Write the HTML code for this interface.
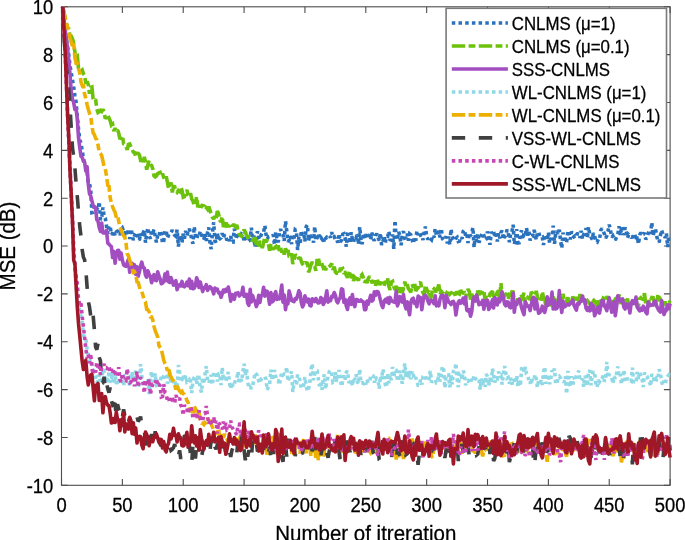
<!DOCTYPE html><html><head><meta charset="utf-8"><style>html,body{margin:0;padding:0;background:#fff;overflow:hidden}svg{display:block}</style></head><body><svg width="685" height="540" viewBox="0 0 685 540">
<rect width="685" height="540" fill="#fff"/>
<defs><clipPath id="ax"><rect x="61.50" y="6.80" width="608.60" height="478.50"/></clipPath></defs>
<g stroke="#4d4d4d" stroke-width="1.1" fill="none">
<rect x="61.5" y="6.8" width="608.60" height="478.50"/>
<path d="M61.50 485.3V479.10M61.50 6.8V13.00M122.36 485.3V479.10M122.36 6.8V13.00M183.22 485.3V479.10M183.22 6.8V13.00M244.08 485.3V479.10M244.08 6.8V13.00M304.94 485.3V479.10M304.94 6.8V13.00M365.80 485.3V479.10M365.80 6.8V13.00M426.66 485.3V479.10M426.66 6.8V13.00M487.52 485.3V479.10M487.52 6.8V13.00M548.38 485.3V479.10M548.38 6.8V13.00M609.24 485.3V479.10M609.24 6.8V13.00M670.10 485.3V479.10M670.10 6.8V13.00M61.5 485.30H67.70M670.1 485.30H663.90M61.5 437.45H67.70M670.1 437.45H663.90M61.5 389.60H67.70M670.1 389.60H663.90M61.5 341.75H67.70M670.1 341.75H663.90M61.5 293.90H67.70M670.1 293.90H663.90M61.5 246.05H67.70M670.1 246.05H663.90M61.5 198.20H67.70M670.1 198.20H663.90M61.5 150.35H67.70M670.1 150.35H663.90M61.5 102.50H67.70M670.1 102.50H663.90M61.5 54.65H67.70M670.1 54.65H663.90M61.5 6.80H67.70M670.1 6.80H663.90"/>
</g>
<g fill="none" stroke-linejoin="round">
<path d="M62.7 6.8 63.9 19.6 65.2 30.7 66.4 40.0 67.6 46.8 68.8 55.3 70.0 65.7 71.2 72.7 72.5 80.0 73.7 87.4 74.9 95.8 76.1 102.3 77.3 116.7 78.5 128.7 79.8 139.9 81.0 143.1 82.2 151.2 83.4 157.5 84.6 163.9 85.8 166.3 87.1 172.7 88.3 184.0 89.5 183.8 90.7 189.5 91.9 212.7 93.1 212.4 94.4 206.0 95.6 209.3 96.8 208.3 98.0 210.0 99.2 201.8 100.5 219.9 101.7 218.6 102.9 207.5 104.1 216.1 105.3 218.2 106.5 226.1 107.8 233.7 109.0 225.7 110.2 226.7 111.4 234.7 112.6 233.1 113.8 230.6 115.1 235.6 116.3 231.9 117.5 231.2 118.7 231.9 119.9 235.1 121.1 229.7 122.4 228.1 123.6 231.1 124.8 237.3 126.0 229.6 127.2 235.8 128.4 228.9 129.7 238.9 130.9 229.0 132.1 233.5 133.3 240.3 134.5 235.7 135.7 233.6 137.0 232.5 138.2 239.0 139.4 240.1 140.6 233.3 141.8 236.5 143.1 233.0 144.3 230.1 145.5 242.7 146.7 233.3 147.9 227.8 149.1 235.6 150.4 238.7 151.6 230.6 152.8 232.9 154.0 229.7 155.2 236.0 156.4 242.4 157.7 235.5 158.9 237.0 160.1 230.6 161.3 233.4 162.5 243.2 163.7 241.4 165.0 230.4 166.2 231.0 167.4 238.0 168.6 235.0 169.8 232.5 171.0 232.3 172.3 230.2 173.5 233.4 174.7 235.4 175.9 236.4 177.1 229.6 178.4 246.6 179.6 236.4 180.8 235.0 182.0 242.6 183.2 233.8 184.4 238.6 185.7 230.9 186.9 235.7 188.1 231.8 189.3 228.7 190.5 233.0 191.7 239.8 193.0 243.6 194.2 226.6 195.4 235.6 196.6 239.1 197.8 234.9 199.0 236.5 200.3 231.1 201.5 235.2 202.7 235.5 203.9 239.4 205.1 233.4 206.3 241.0 207.6 232.4 208.8 227.5 210.0 243.3 211.2 249.1 212.4 233.2 213.7 222.3 214.9 240.4 216.1 242.6 217.3 233.1 218.5 240.1 219.7 238.7 221.0 237.8 222.2 233.2 223.4 237.9 224.6 234.5 225.8 236.8 227.0 240.4 228.3 237.8 229.5 241.0 230.7 236.2 231.9 241.9 233.1 242.0 234.3 228.6 235.6 235.9 236.8 236.3 238.0 233.3 239.2 238.1 240.4 237.3 241.6 233.8 242.9 234.4 244.1 242.0 245.3 231.9 246.5 238.9 247.7 241.7 248.9 241.0 250.2 238.3 251.4 227.6 252.6 241.7 253.8 235.4 255.0 247.2 256.3 236.6 257.5 231.3 258.7 237.0 259.9 239.4 261.1 235.0 262.3 232.3 263.6 232.3 264.8 225.5 266.0 234.4 267.2 239.0 268.4 236.8 269.6 236.4 270.9 235.5 272.1 236.1 273.3 235.1 274.5 244.7 275.7 232.1 276.9 238.8 278.2 242.3 279.4 233.0 280.6 228.9 281.8 233.1 283.0 235.0 284.2 240.8 285.5 221.2 286.7 230.6 287.9 241.7 289.1 240.4 290.3 235.8 291.6 244.1 292.8 235.5 294.0 238.4 295.2 229.7 296.4 230.6 297.6 250.0 298.9 236.5 300.1 244.5 301.3 230.6 302.5 234.8 303.7 233.1 304.9 241.4 306.2 226.7 307.4 224.9 308.6 241.0 309.8 234.3 311.0 239.4 312.2 236.3 313.5 242.7 314.7 226.5 315.9 240.6 317.1 237.8 318.3 233.5 319.5 239.3 320.8 237.4 322.0 239.0 323.2 236.9 324.4 242.2 325.6 238.6 326.8 237.2 328.1 237.8 329.3 235.8 330.5 237.5 331.7 232.1 332.9 237.5 334.2 236.8 335.4 239.5 336.6 238.9 337.8 242.8 339.0 233.6 340.2 241.9 341.5 240.2 342.7 234.3 343.9 233.8 345.1 238.0 346.3 246.7 347.5 234.3 348.8 234.6 350.0 243.3 351.2 232.3 352.4 239.5 353.6 242.1 354.8 235.8 356.1 236.9 357.3 235.0 358.5 244.4 359.7 226.9 360.9 238.7 362.1 244.2 363.4 233.2 364.6 237.7 365.8 234.4 367.0 237.7 368.2 236.4 369.5 234.7 370.7 239.9 371.9 232.6 373.1 238.3 374.3 240.7 375.5 235.8 376.8 233.7 378.0 237.1 379.2 240.6 380.4 233.0 381.6 245.1 382.8 241.9 384.1 236.1 385.3 243.1 386.5 236.2 387.7 236.3 388.9 231.3 390.1 240.6 391.4 239.5 392.6 234.4 393.8 248.8 395.0 220.4 396.2 238.9 397.4 240.0 398.7 231.7 399.9 236.0 401.1 245.3 402.3 233.2 403.5 231.4 404.8 238.1 406.0 237.6 407.2 233.5 408.4 240.6 409.6 233.9 410.8 234.9 412.1 239.5 413.3 243.5 414.5 237.6 415.7 240.7 416.9 231.0 418.1 235.0 419.4 231.8 420.6 235.1 421.8 234.6 423.0 240.0 424.2 232.7 425.4 226.5 426.7 237.2 427.9 239.2 429.1 237.0 430.3 238.6 431.5 239.8 432.7 235.5 434.0 237.5 435.2 228.5 436.4 235.6 437.6 234.3 438.8 230.9 440.0 237.3 441.3 228.5 442.5 238.9 443.7 240.4 444.9 238.1 446.1 236.7 447.4 243.4 448.6 236.6 449.8 244.8 451.0 229.1 452.2 236.1 453.4 239.4 454.7 240.9 455.9 238.3 457.1 237.3 458.3 241.5 459.5 241.1 460.7 237.2 462.0 238.8 463.2 231.2 464.4 229.8 465.6 235.6 466.8 233.5 468.0 242.9 469.3 233.0 470.5 236.0 471.7 233.5 472.9 227.5 474.1 247.5 475.3 235.2 476.6 241.7 477.8 233.2 479.0 242.8 480.2 238.9 481.4 235.1 482.7 232.7 483.9 235.4 485.1 240.1 486.3 239.1 487.5 231.5 488.7 235.8 490.0 244.8 491.2 232.0 492.4 233.6 493.6 231.3 494.8 237.5 496.0 231.7 497.3 241.4 498.5 233.3 499.7 238.4 500.9 232.6 502.1 230.6 503.3 239.6 504.6 236.4 505.8 235.8 507.0 229.7 508.2 232.0 509.4 242.2 510.6 233.9 511.9 232.0 513.1 224.7 514.3 244.2 515.5 239.2 516.7 229.2 518.0 242.8 519.2 242.6 520.4 233.6 521.6 230.5 522.8 239.2 524.0 233.3 525.3 235.3 526.5 228.0 527.7 235.6 528.9 230.8 530.1 240.5 531.3 237.2 532.6 236.6 533.8 230.1 535.0 232.7 536.2 239.8 537.4 232.6 538.6 231.8 539.9 236.4 541.1 237.4 542.3 237.1 543.5 245.0 544.7 235.5 545.9 234.7 547.2 240.5 548.4 232.3 549.6 243.0 550.8 239.2 552.0 238.7 553.2 225.7 554.5 243.9 555.7 233.4 556.9 230.9 558.1 233.8 559.3 229.7 560.6 240.9 561.8 248.2 563.0 232.6 564.2 242.1 565.4 238.0 566.6 242.3 567.9 230.8 569.1 231.2 570.3 239.5 571.5 231.4 572.7 235.1 573.9 236.7 575.2 235.7 576.4 237.1 577.6 232.8 578.8 234.2 580.0 237.7 581.2 230.8 582.5 239.0 583.7 234.6 584.9 233.7 586.1 228.1 587.3 238.3 588.5 227.0 589.8 234.6 591.0 237.0 592.2 239.6 593.4 233.1 594.6 235.6 595.9 241.8 597.1 242.2 598.3 239.2 599.5 239.7 600.7 230.5 601.9 228.5 603.2 231.1 604.4 233.9 605.6 238.1 606.8 235.8 608.0 231.4 609.2 224.6 610.5 230.6 611.7 237.2 612.9 235.9 614.1 238.5 615.3 240.2 616.5 237.2 617.8 235.0 619.0 226.3 620.2 235.2 621.4 228.8 622.6 226.4 623.8 235.1 625.1 227.5 626.3 231.8 627.5 238.0 628.7 234.7 629.9 235.8 631.1 237.2 632.4 237.1 633.6 235.3 634.8 233.7 636.0 240.5 637.2 236.3 638.5 244.0 639.7 235.0 640.9 232.7 642.1 235.0 643.3 234.5 644.5 232.8 645.8 239.3 647.0 237.4 648.2 233.4 649.4 230.6 650.6 233.7 651.8 222.5 653.1 235.8 654.3 230.7 655.5 229.1 656.7 236.4 657.9 240.3 659.1 242.4 660.4 235.5 661.6 230.1 662.8 234.3 664.0 235.0 665.2 237.9 666.4 233.2 667.7 247.1 668.9 235.3 670.1 235.8" stroke="#2a72bd" stroke-width="3.6" stroke-dasharray="3.5 3.2" stroke-linejoin="miter" stroke-miterlimit="2"/>
<path d="M62.7 6.8 63.9 11.3 65.2 18.1 66.4 23.3 67.6 28.5 68.8 28.9 70.0 36.1 71.2 36.1 72.5 38.8 73.7 43.3 74.9 52.2 76.1 56.7 77.3 56.0 78.5 68.1 79.8 70.4 81.0 70.7 82.2 69.9 83.4 73.7 84.6 75.3 85.8 83.6 87.1 81.3 88.3 84.7 89.5 93.7 90.7 87.6 91.9 87.1 93.1 98.7 94.4 100.5 95.6 99.2 96.8 108.9 98.0 112.5 99.2 111.8 100.5 110.4 101.7 111.4 102.9 109.3 104.1 111.9 105.3 118.8 106.5 116.5 107.8 114.6 109.0 118.2 110.2 120.7 111.4 125.2 112.6 124.2 113.8 131.1 115.1 128.1 116.3 131.6 117.5 129.8 118.7 132.9 119.9 139.2 121.1 137.7 122.4 135.7 123.6 143.8 124.8 144.3 126.0 146.3 127.2 149.9 128.4 144.4 129.7 144.0 130.9 146.7 132.1 149.7 133.3 152.0 134.5 152.5 135.7 156.5 137.0 153.2 138.2 153.4 139.4 154.8 140.6 160.3 141.8 160.0 143.1 161.7 144.3 157.0 145.5 162.2 146.7 169.7 147.9 164.7 149.1 160.7 150.4 164.8 151.6 165.5 152.8 168.9 154.0 175.9 155.2 176.9 156.4 176.1 157.7 173.5 158.9 172.8 160.1 172.3 161.3 176.0 162.5 173.4 163.7 177.5 165.0 179.9 166.2 176.4 167.4 182.1 168.6 188.8 169.8 185.5 171.0 182.6 172.3 192.5 173.5 186.4 174.7 186.7 175.9 190.8 177.1 192.3 178.4 190.4 179.6 191.4 180.8 187.1 182.0 190.2 183.2 197.1 184.4 196.6 185.7 192.9 186.9 189.9 188.1 194.9 189.3 196.5 190.5 193.0 191.7 199.0 193.0 201.2 194.2 205.5 195.4 204.0 196.6 196.7 197.8 207.3 199.0 204.9 200.3 209.6 201.5 206.3 202.7 204.5 203.9 208.4 205.1 206.7 206.3 207.5 207.6 209.3 208.8 206.7 210.0 210.2 211.2 214.7 212.4 217.3 213.7 219.0 214.9 216.1 216.1 219.0 217.3 211.0 218.5 213.4 219.7 220.3 221.0 221.8 222.2 216.6 223.4 227.0 224.6 224.4 225.8 220.4 227.0 226.0 228.3 225.7 229.5 225.8 230.7 223.3 231.9 225.1 233.1 225.1 234.3 225.1 235.6 227.3 236.8 224.9 238.0 230.7 239.2 233.9 240.4 235.8 241.6 236.2 242.9 233.7 244.1 229.4 245.3 232.1 246.5 235.2 247.7 237.5 248.9 236.7 250.2 236.9 251.4 238.0 252.6 241.3 253.8 239.4 255.0 235.5 256.3 245.0 257.5 240.9 258.7 246.5 259.9 240.8 261.1 243.5 262.3 248.1 263.6 242.6 264.8 237.3 266.0 242.2 267.2 240.0 268.4 243.7 269.6 250.6 270.9 243.8 272.1 246.2 273.3 250.0 274.5 244.2 275.7 245.6 276.9 248.7 278.2 245.5 279.4 250.9 280.6 247.7 281.8 252.7 283.0 249.5 284.2 254.7 285.5 248.3 286.7 251.9 287.9 249.5 289.1 256.4 290.3 256.7 291.6 253.3 292.8 264.0 294.0 260.5 295.2 254.5 296.4 255.9 297.6 255.0 298.9 259.1 300.1 257.3 301.3 261.3 302.5 264.0 303.7 265.5 304.9 262.7 306.2 262.7 307.4 263.3 308.6 272.3 309.8 269.0 311.0 264.6 312.2 262.1 313.5 264.7 314.7 266.2 315.9 270.9 317.1 259.0 318.3 267.3 319.5 260.2 320.8 260.2 322.0 264.4 323.2 267.6 324.4 266.2 325.6 270.2 326.8 266.8 328.1 267.6 329.3 266.5 330.5 265.5 331.7 263.5 332.9 269.8 334.2 266.6 335.4 272.1 336.6 273.3 337.8 273.0 339.0 274.4 340.2 269.1 341.5 269.1 342.7 268.5 343.9 272.6 345.1 272.5 346.3 275.3 347.5 277.6 348.8 273.5 350.0 273.9 351.2 278.3 352.4 274.1 353.6 280.9 354.8 277.3 356.1 278.5 357.3 278.6 358.5 280.6 359.7 275.1 360.9 275.9 362.1 274.5 363.4 277.7 364.6 282.5 365.8 280.5 367.0 283.0 368.2 278.7 369.5 276.3 370.7 278.9 371.9 282.2 373.1 282.1 374.3 280.6 375.5 285.6 376.8 281.6 378.0 281.3 379.2 283.7 380.4 283.8 381.6 282.2 382.8 285.3 384.1 285.9 385.3 281.2 386.5 282.7 387.7 278.5 388.9 286.5 390.1 290.0 391.4 282.1 392.6 281.4 393.8 286.8 395.0 289.8 396.2 285.8 397.4 291.0 398.7 287.2 399.9 292.8 401.1 287.4 402.3 293.0 403.5 287.7 404.8 281.7 406.0 286.9 407.2 284.3 408.4 288.7 409.6 290.1 410.8 292.4 412.1 284.5 413.3 287.4 414.5 282.3 415.7 291.1 416.9 289.0 418.1 287.9 419.4 283.6 420.6 281.9 421.8 290.0 423.0 292.6 424.2 295.0 425.4 285.1 426.7 289.1 427.9 291.5 429.1 289.8 430.3 298.3 431.5 296.5 432.7 287.4 434.0 288.5 435.2 289.6 436.4 293.7 437.6 288.8 438.8 284.4 440.0 294.4 441.3 291.3 442.5 292.7 443.7 290.2 444.9 291.3 446.1 292.1 447.4 294.9 448.6 292.3 449.8 294.2 451.0 292.9 452.2 292.6 453.4 290.2 454.7 294.4 455.9 294.1 457.1 289.2 458.3 293.4 459.5 294.1 460.7 290.3 462.0 292.1 463.2 293.1 464.4 292.8 465.6 298.2 466.8 292.7 468.0 289.1 469.3 291.6 470.5 299.6 471.7 293.9 472.9 297.7 474.1 295.8 475.3 294.4 476.6 299.2 477.8 290.6 479.0 294.9 480.2 292.3 481.4 292.8 482.7 290.3 483.9 290.7 485.1 300.5 486.3 296.1 487.5 303.6 488.7 298.4 490.0 293.7 491.2 292.6 492.4 291.2 493.6 297.2 494.8 295.4 496.0 296.1 497.3 292.0 498.5 290.5 499.7 297.4 500.9 283.2 502.1 295.6 503.3 298.2 504.6 295.0 505.8 294.2 507.0 294.9 508.2 299.4 509.4 292.2 510.6 296.7 511.9 291.8 513.1 291.9 514.3 301.6 515.5 301.6 516.7 301.7 518.0 297.3 519.2 297.6 520.4 296.9 521.6 300.8 522.8 296.7 524.0 292.9 525.3 302.4 526.5 299.3 527.7 297.5 528.9 298.7 530.1 299.1 531.3 292.1 532.6 293.2 533.8 295.0 535.0 301.0 536.2 290.8 537.4 296.7 538.6 300.7 539.9 300.3 541.1 300.9 542.3 291.6 543.5 297.6 544.7 298.8 545.9 307.0 547.2 297.4 548.4 303.0 549.6 303.9 550.8 297.7 552.0 302.5 553.2 296.9 554.5 295.3 555.7 305.7 556.9 300.8 558.1 305.6 559.3 300.6 560.6 296.7 561.8 304.5 563.0 293.9 564.2 300.5 565.4 304.4 566.6 301.0 567.9 297.4 569.1 304.9 570.3 300.7 571.5 305.3 572.7 296.5 573.9 299.4 575.2 301.8 576.4 296.8 577.6 304.8 578.8 302.3 580.0 294.0 581.2 300.4 582.5 295.7 583.7 299.4 584.9 303.1 586.1 301.8 587.3 300.6 588.5 302.2 589.8 303.9 591.0 304.0 592.2 306.5 593.4 301.1 594.6 299.5 595.9 298.1 597.1 307.2 598.3 298.7 599.5 300.8 600.7 306.2 601.9 301.2 603.2 298.2 604.4 298.9 605.6 298.3 606.8 297.4 608.0 297.5 609.2 300.9 610.5 308.7 611.7 304.7 612.9 300.3 614.1 302.8 615.3 298.9 616.5 298.1 617.8 300.8 619.0 294.4 620.2 304.1 621.4 298.2 622.6 302.7 623.8 304.3 625.1 299.5 626.3 303.4 627.5 298.5 628.7 305.3 629.9 301.7 631.1 304.5 632.4 302.6 633.6 302.9 634.8 305.7 636.0 299.5 637.2 305.8 638.5 305.4 639.7 298.7 640.9 297.7 642.1 298.7 643.3 300.0 644.5 293.1 645.8 305.1 647.0 304.6 648.2 305.4 649.4 298.7 650.6 300.2 651.8 297.4 653.1 297.6 654.3 302.0 655.5 304.6 656.7 305.5 657.9 294.0 659.1 297.3 660.4 299.0 661.6 302.6 662.8 302.4 664.0 302.9 665.2 302.9 666.4 310.4 667.7 302.7 668.9 303.1 670.1 300.7" stroke="#6cc20a" stroke-width="3.6" stroke-dasharray="13.4 3.4 6.8 3.4" stroke-linejoin="miter" stroke-miterlimit="2"/>
<path d="M62.7 6.8 63.9 19.5 65.2 30.6 66.4 38.7 67.6 49.3 68.8 60.5 70.0 74.5 71.2 91.3 72.5 99.4 73.7 102.6 74.9 109.4 76.1 108.5 77.3 119.2 78.5 137.5 79.8 147.7 81.0 156.3 82.2 157.3 83.4 161.1 84.6 162.1 85.8 170.9 87.1 166.8 88.3 184.0 89.5 193.9 90.7 195.9 91.9 200.7 93.1 205.5 94.4 206.6 95.6 208.1 96.8 219.8 98.0 221.0 99.2 227.5 100.5 231.3 101.7 223.0 102.9 232.7 104.1 233.1 105.3 232.8 106.5 230.5 107.8 243.1 109.0 244.2 110.2 245.6 111.4 246.6 112.6 257.5 113.8 251.6 115.1 263.3 116.3 253.6 117.5 250.6 118.7 250.4 119.9 259.2 121.1 253.1 122.4 260.2 123.6 264.8 124.8 265.8 126.0 266.3 127.2 262.7 128.4 259.5 129.7 272.3 130.9 269.8 132.1 263.3 133.3 265.1 134.5 264.9 135.7 274.3 137.0 266.7 138.2 276.2 139.4 271.8 140.6 265.8 141.8 262.1 143.1 267.6 144.3 268.0 145.5 275.2 146.7 277.2 147.9 270.8 149.1 274.3 150.4 276.2 151.6 282.7 152.8 278.0 154.0 274.6 155.2 280.1 156.4 280.7 157.7 271.7 158.9 275.5 160.1 278.8 161.3 283.7 162.5 283.1 163.7 281.4 165.0 273.9 166.2 280.6 167.4 272.1 168.6 281.9 169.8 282.5 171.0 277.6 172.3 281.2 173.5 285.1 174.7 283.5 175.9 280.7 177.1 289.7 178.4 286.2 179.6 284.7 180.8 285.9 182.0 281.4 183.2 286.1 184.4 286.8 185.7 285.5 186.9 282.2 188.1 285.6 189.3 279.1 190.5 288.1 191.7 281.2 193.0 288.8 194.2 288.2 195.4 285.8 196.6 277.7 197.8 280.6 199.0 287.4 200.3 282.0 201.5 287.3 202.7 291.6 203.9 287.5 205.1 288.1 206.3 284.6 207.6 290.4 208.8 288.2 210.0 286.7 211.2 288.0 212.4 290.0 213.7 293.8 214.9 288.0 216.1 289.9 217.3 289.1 218.5 292.8 219.7 292.5 221.0 297.3 222.2 293.9 223.4 290.0 224.6 291.9 225.8 289.3 227.0 291.0 228.3 287.0 229.5 292.8 230.7 301.1 231.9 294.5 233.1 295.3 234.3 299.3 235.6 293.3 236.8 293.4 238.0 292.7 239.2 296.0 240.4 294.7 241.6 294.2 242.9 287.3 244.1 296.2 245.3 296.0 246.5 294.3 247.7 303.1 248.9 305.3 250.2 289.3 251.4 302.0 252.6 295.4 253.8 299.8 255.0 300.8 256.3 306.6 257.5 303.5 258.7 295.2 259.9 302.4 261.1 295.7 262.3 295.0 263.6 287.3 264.8 296.1 266.0 291.1 267.2 291.3 268.4 296.6 269.6 304.3 270.9 292.6 272.1 301.9 273.3 300.8 274.5 294.4 275.7 291.6 276.9 299.4 278.2 298.2 279.4 298.9 280.6 292.8 281.8 285.1 283.0 302.1 284.2 295.0 285.5 309.7 286.7 301.4 287.9 303.9 289.1 290.9 290.3 295.2 291.6 300.5 292.8 301.1 294.0 301.6 295.2 298.5 296.4 299.1 297.6 295.7 298.9 290.8 300.1 293.1 301.3 302.4 302.5 306.9 303.7 304.5 304.9 295.8 306.2 299.3 307.4 301.9 308.6 299.2 309.8 305.3 311.0 305.9 312.2 298.8 313.5 300.3 314.7 301.5 315.9 298.5 317.1 301.6 318.3 303.0 319.5 302.5 320.8 297.6 322.0 298.6 323.2 304.5 324.4 302.4 325.6 297.5 326.8 290.7 328.1 302.1 329.3 298.9 330.5 300.7 331.7 296.4 332.9 296.8 334.2 292.5 335.4 295.4 336.6 301.1 337.8 302.8 339.0 299.1 340.2 298.1 341.5 288.9 342.7 289.4 343.9 302.3 345.1 299.4 346.3 306.0 347.5 309.5 348.8 299.9 350.0 297.9 351.2 304.4 352.4 294.5 353.6 303.2 354.8 306.6 356.1 299.6 357.3 299.5 358.5 301.2 359.7 301.3 360.9 300.0 362.1 301.3 363.4 301.9 364.6 309.7 365.8 309.6 367.0 301.0 368.2 304.2 369.5 299.7 370.7 295.3 371.9 301.1 373.1 300.0 374.3 291.7 375.5 295.4 376.8 291.5 378.0 291.7 379.2 295.2 380.4 300.2 381.6 304.9 382.8 307.6 384.1 301.3 385.3 299.5 386.5 301.9 387.7 298.0 388.9 303.4 390.1 297.4 391.4 300.4 392.6 301.6 393.8 301.9 395.0 302.4 396.2 291.1 397.4 305.9 398.7 302.5 399.9 296.7 401.1 297.4 402.3 302.1 403.5 294.5 404.8 304.7 406.0 308.8 407.2 301.8 408.4 308.7 409.6 314.8 410.8 302.2 412.1 299.0 413.3 298.2 414.5 303.4 415.7 302.0 416.9 306.7 418.1 296.1 419.4 297.2 420.6 297.7 421.8 309.8 423.0 301.3 424.2 295.6 425.4 295.2 426.7 297.0 427.9 301.0 429.1 303.8 430.3 300.4 431.5 300.4 432.7 301.1 434.0 303.7 435.2 295.7 436.4 305.9 437.6 303.9 438.8 305.8 440.0 299.3 441.3 295.5 442.5 295.2 443.7 297.3 444.9 307.6 446.1 295.2 447.4 298.4 448.6 302.2 449.8 302.8 451.0 304.5 452.2 301.7 453.4 301.4 454.7 304.3 455.9 315.0 457.1 306.9 458.3 302.2 459.5 300.6 460.7 303.2 462.0 301.3 463.2 298.1 464.4 303.9 465.6 297.0 466.8 310.2 468.0 311.0 469.3 309.7 470.5 316.2 471.7 311.7 472.9 300.4 474.1 297.0 475.3 301.1 476.6 295.2 477.8 300.0 479.0 304.7 480.2 302.8 481.4 304.0 482.7 300.4 483.9 309.3 485.1 300.9 486.3 304.9 487.5 300.2 488.7 309.5 490.0 307.3 491.2 304.4 492.4 299.9 493.6 308.0 494.8 297.6 496.0 299.8 497.3 304.9 498.5 298.7 499.7 301.8 500.9 298.1 502.1 291.8 503.3 296.8 504.6 304.1 505.8 305.8 507.0 301.9 508.2 302.0 509.4 307.0 510.6 307.8 511.9 302.1 513.1 293.0 514.3 312.3 515.5 303.2 516.7 304.7 518.0 300.7 519.2 299.1 520.4 302.3 521.6 308.0 522.8 311.4 524.0 314.6 525.3 301.8 526.5 304.3 527.7 306.5 528.9 306.0 530.1 310.6 531.3 304.7 532.6 298.4 533.8 297.3 535.0 309.0 536.2 299.5 537.4 306.1 538.6 313.2 539.9 312.3 541.1 310.9 542.3 306.2 543.5 309.4 544.7 312.4 545.9 307.8 547.2 296.7 548.4 305.1 549.6 302.4 550.8 303.3 552.0 292.1 553.2 309.0 554.5 300.8 555.7 308.9 556.9 308.3 558.1 305.9 559.3 290.6 560.6 303.6 561.8 312.4 563.0 301.0 564.2 307.0 565.4 306.2 566.6 305.0 567.9 304.1 569.1 305.0 570.3 303.3 571.5 302.3 572.7 299.9 573.9 304.9 575.2 307.8 576.4 310.1 577.6 303.5 578.8 304.3 580.0 301.9 581.2 301.2 582.5 296.0 583.7 300.9 584.9 300.0 586.1 308.4 587.3 310.4 588.5 307.6 589.8 310.8 591.0 303.3 592.2 310.0 593.4 305.8 594.6 315.8 595.9 312.8 597.1 308.5 598.3 306.8 599.5 313.1 600.7 306.6 601.9 300.8 603.2 300.5 604.4 306.2 605.6 307.6 606.8 310.7 608.0 303.6 609.2 297.8 610.5 304.9 611.7 312.2 612.9 305.9 614.1 301.8 615.3 315.8 616.5 307.3 617.8 295.8 619.0 298.3 620.2 300.2 621.4 301.5 622.6 298.9 623.8 307.1 625.1 309.1 626.3 304.1 627.5 307.5 628.7 304.3 629.9 313.0 631.1 303.8 632.4 300.6 633.6 303.2 634.8 303.5 636.0 297.1 637.2 307.2 638.5 309.4 639.7 310.9 640.9 308.4 642.1 310.3 643.3 306.2 644.5 308.0 645.8 312.1 647.0 313.8 648.2 302.0 649.4 304.2 650.6 305.5 651.8 304.8 653.1 305.1 654.3 301.4 655.5 301.2 656.7 306.2 657.9 308.8 659.1 310.7 660.4 312.0 661.6 300.6 662.8 307.5 664.0 314.5 665.2 311.4 666.4 310.2 667.7 304.9 668.9 308.7 670.1 303.5" stroke="#a24dc0" stroke-width="3.6"/>
<path d="M62.7 6.8 63.9 27.5 65.2 51.8 66.4 81.5 67.6 112.8 68.8 142.3 70.0 168.7 71.2 194.2 72.5 216.1 73.7 246.0 74.9 265.7 76.1 286.7 77.3 295.1 78.5 301.6 79.8 313.1 81.0 316.1 82.2 321.8 83.4 335.3 84.6 336.3 85.8 337.0 87.1 349.9 88.3 354.5 89.5 359.2 90.7 363.6 91.9 362.2 93.1 368.9 94.4 372.0 95.6 376.5 96.8 382.7 98.0 381.0 99.2 374.6 100.5 383.4 101.7 381.8 102.9 369.1 104.1 371.3 105.3 382.3 106.5 376.4 107.8 383.3 109.0 371.1 110.2 382.5 111.4 379.8 112.6 372.1 113.8 384.0 115.1 373.0 116.3 384.0 117.5 379.1 118.7 381.6 119.9 380.7 121.1 379.2 122.4 380.4 123.6 385.9 124.8 375.7 126.0 375.5 127.2 372.2 128.4 371.3 129.7 386.8 130.9 373.3 132.1 371.9 133.3 382.1 134.5 374.2 135.7 370.9 137.0 382.0 138.2 387.9 139.4 382.6 140.6 364.1 141.8 376.8 143.1 386.3 144.3 381.8 145.5 385.5 146.7 382.5 147.9 379.3 149.1 394.1 150.4 378.9 151.6 371.3 152.8 379.7 154.0 381.6 155.2 373.3 156.4 385.9 157.7 387.0 158.9 387.9 160.1 381.0 161.3 377.1 162.5 379.5 163.7 376.0 165.0 374.0 166.2 375.7 167.4 383.3 168.6 381.0 169.8 372.1 171.0 384.2 172.3 380.9 173.5 381.5 174.7 380.2 175.9 385.1 177.1 387.2 178.4 365.1 179.6 372.1 180.8 382.2 182.0 379.5 183.2 375.0 184.4 380.4 185.7 375.5 186.9 382.0 188.1 381.2 189.3 379.6 190.5 381.5 191.7 393.1 193.0 380.1 194.2 377.5 195.4 376.0 196.6 384.2 197.8 377.4 199.0 377.5 200.3 388.8 201.5 392.4 202.7 377.5 203.9 384.1 205.1 373.6 206.3 366.1 207.6 380.9 208.8 383.0 210.0 379.3 211.2 375.0 212.4 384.9 213.7 372.3 214.9 372.5 216.1 374.4 217.3 381.5 218.5 373.9 219.7 373.4 221.0 385.1 222.2 367.5 223.4 379.4 224.6 376.8 225.8 381.6 227.0 376.9 228.3 372.0 229.5 382.8 230.7 388.7 231.9 382.4 233.1 386.6 234.3 383.9 235.6 380.1 236.8 379.3 238.0 371.5 239.2 383.9 240.4 377.3 241.6 381.6 242.9 371.3 244.1 363.7 245.3 375.6 246.5 369.0 247.7 380.9 248.9 388.2 250.2 387.0 251.4 388.7 252.6 385.3 253.8 380.8 255.0 372.5 256.3 374.2 257.5 375.7 258.7 380.9 259.9 383.2 261.1 379.1 262.3 378.1 263.6 377.3 264.8 376.6 266.0 379.3 267.2 389.9 268.4 386.3 269.6 384.3 270.9 369.7 272.1 380.4 273.3 375.1 274.5 370.1 275.7 376.1 276.9 380.8 278.2 380.7 279.4 384.9 280.6 377.7 281.8 372.3 283.0 374.9 284.2 374.0 285.5 374.3 286.7 366.9 287.9 381.3 289.1 378.2 290.3 374.7 291.6 371.3 292.8 391.9 294.0 383.1 295.2 380.5 296.4 384.9 297.6 374.6 298.9 377.2 300.1 380.9 301.3 388.4 302.5 387.3 303.7 385.3 304.9 376.9 306.2 385.6 307.4 391.3 308.6 388.4 309.8 383.2 311.0 369.7 312.2 363.7 313.5 380.1 314.7 373.6 315.9 370.3 317.1 370.7 318.3 378.7 319.5 386.2 320.8 382.4 322.0 389.8 323.2 378.6 324.4 374.4 325.6 389.2 326.8 380.2 328.1 377.3 329.3 371.6 330.5 370.2 331.7 373.4 332.9 382.2 334.2 381.3 335.4 372.2 336.6 381.6 337.8 379.4 339.0 370.0 340.2 377.2 341.5 386.5 342.7 381.3 343.9 375.4 345.1 379.6 346.3 372.3 347.5 370.9 348.8 381.7 350.0 382.0 351.2 379.7 352.4 385.8 353.6 377.4 354.8 379.7 356.1 374.4 357.3 381.8 358.5 384.1 359.7 368.9 360.9 382.9 362.1 382.6 363.4 383.4 364.6 381.0 365.8 384.3 367.0 379.6 368.2 382.9 369.5 381.6 370.7 377.0 371.9 374.7 373.1 375.8 374.3 382.7 375.5 377.0 376.8 379.3 378.0 379.5 379.2 388.7 380.4 376.0 381.6 379.3 382.8 369.2 384.1 374.2 385.3 384.7 386.5 387.3 387.7 373.1 388.9 383.3 390.1 375.4 391.4 380.2 392.6 367.0 393.8 377.2 395.0 370.0 396.2 370.3 397.4 380.6 398.7 380.9 399.9 370.5 401.1 378.0 402.3 383.7 403.5 372.4 404.8 363.4 406.0 377.4 407.2 370.6 408.4 378.8 409.6 371.0 410.8 379.3 412.1 371.1 413.3 374.8 414.5 379.3 415.7 377.3 416.9 381.5 418.1 385.3 419.4 385.2 420.6 379.5 421.8 384.6 423.0 376.6 424.2 375.3 425.4 375.5 426.7 381.0 427.9 378.4 429.1 378.6 430.3 370.9 431.5 382.3 432.7 381.0 434.0 380.0 435.2 379.4 436.4 382.8 437.6 382.4 438.8 373.0 440.0 381.5 441.3 373.5 442.5 366.3 443.7 369.9 444.9 387.9 446.1 374.9 447.4 375.3 448.6 375.0 449.8 387.3 451.0 374.9 452.2 384.3 453.4 371.6 454.7 371.6 455.9 363.2 457.1 379.1 458.3 387.2 459.5 373.3 460.7 372.9 462.0 380.1 463.2 370.8 464.4 373.7 465.6 385.3 466.8 381.1 468.0 381.3 469.3 379.3 470.5 377.4 471.7 382.3 472.9 380.0 474.1 375.2 475.3 378.5 476.6 380.0 477.8 380.3 479.0 379.2 480.2 389.5 481.4 378.6 482.7 384.3 483.9 378.4 485.1 386.8 486.3 374.0 487.5 376.7 488.7 386.0 490.0 377.9 491.2 382.7 492.4 368.6 493.6 374.7 494.8 382.6 496.0 377.6 497.3 378.5 498.5 371.6 499.7 375.7 500.9 375.2 502.1 384.5 503.3 374.5 504.6 366.1 505.8 373.5 507.0 378.2 508.2 377.4 509.4 383.7 510.6 377.9 511.9 384.6 513.1 378.8 514.3 380.7 515.5 383.4 516.7 375.6 518.0 386.6 519.2 379.5 520.4 386.1 521.6 368.7 522.8 366.2 524.0 372.3 525.3 367.0 526.5 373.9 527.7 374.8 528.9 380.5 530.1 383.7 531.3 378.2 532.6 381.4 533.8 381.2 535.0 374.5 536.2 378.7 537.4 387.3 538.6 380.5 539.9 383.0 541.1 380.6 542.3 384.9 543.5 372.2 544.7 366.9 545.9 383.6 547.2 375.2 548.4 374.7 549.6 384.2 550.8 378.4 552.0 370.4 553.2 372.8 554.5 368.6 555.7 384.1 556.9 383.3 558.1 377.3 559.3 376.3 560.6 378.1 561.8 380.6 563.0 381.0 564.2 382.2 565.4 376.3 566.6 394.0 567.9 370.9 569.1 380.8 570.3 386.9 571.5 376.2 572.7 386.3 573.9 377.1 575.2 380.7 576.4 375.4 577.6 373.7 578.8 370.7 580.0 380.6 581.2 380.4 582.5 378.8 583.7 386.7 584.9 376.0 586.1 377.6 587.3 386.1 588.5 372.4 589.8 370.2 591.0 385.3 592.2 376.0 593.4 371.2 594.6 373.1 595.9 383.6 597.1 387.1 598.3 380.1 599.5 381.6 600.7 379.0 601.9 379.2 603.2 375.7 604.4 381.5 605.6 379.8 606.8 361.8 608.0 377.7 609.2 374.3 610.5 376.6 611.7 377.2 612.9 383.7 614.1 376.2 615.3 378.7 616.5 374.0 617.8 366.5 619.0 376.4 620.2 374.1 621.4 384.1 622.6 378.6 623.8 369.8 625.1 378.1 626.3 382.3 627.5 377.9 628.7 379.7 629.9 380.2 631.1 381.0 632.4 367.6 633.6 382.5 634.8 381.4 636.0 382.2 637.2 372.0 638.5 379.6 639.7 371.3 640.9 377.0 642.1 378.7 643.3 387.0 644.5 372.6 645.8 375.0 647.0 376.0 648.2 379.1 649.4 381.1 650.6 386.2 651.8 374.1 653.1 376.7 654.3 380.5 655.5 382.5 656.7 378.4 657.9 379.2 659.1 369.4 660.4 373.4 661.6 381.6 662.8 385.3 664.0 380.7 665.2 384.1 666.4 378.8 667.7 376.4 668.9 374.8 670.1 375.9" stroke="#8fd8e5" stroke-width="3.6" stroke-dasharray="3.5 3.2" stroke-linejoin="miter" stroke-miterlimit="2"/>
<path d="M62.7 6.8 63.9 12.4 65.2 18.5 66.4 23.3 67.6 26.9 68.8 31.6 70.0 38.1 71.2 41.9 72.5 46.7 73.7 43.4 74.9 57.9 76.1 63.3 77.3 63.4 78.5 68.7 79.8 72.8 81.0 82.0 82.2 85.3 83.4 84.2 84.6 94.2 85.8 98.3 87.1 104.6 88.3 109.2 89.5 113.3 90.7 115.7 91.9 125.6 93.1 132.8 94.4 134.6 95.6 138.2 96.8 139.5 98.0 144.8 99.2 152.1 100.5 153.6 101.7 155.5 102.9 161.0 104.1 166.8 105.3 169.0 106.5 175.7 107.8 185.3 109.0 186.0 110.2 197.9 111.4 203.0 112.6 206.9 113.8 209.8 115.1 212.4 116.3 217.3 117.5 215.7 118.7 221.1 119.9 227.0 121.1 229.7 122.4 233.4 123.6 235.8 124.8 237.1 126.0 243.4 127.2 253.5 128.4 255.8 129.7 260.2 130.9 263.5 132.1 268.2 133.3 272.3 134.5 271.8 135.7 274.0 137.0 282.0 138.2 282.4 139.4 286.8 140.6 290.8 141.8 291.7 143.1 296.0 144.3 300.4 145.5 302.1 146.7 309.3 147.9 309.7 149.1 311.6 150.4 316.8 151.6 316.9 152.8 320.0 154.0 326.4 155.2 330.7 156.4 333.6 157.7 337.0 158.9 345.3 160.1 347.4 161.3 349.0 162.5 354.5 163.7 360.0 165.0 363.7 166.2 366.0 167.4 370.8 168.6 367.2 169.8 375.0 171.0 376.6 172.3 379.5 173.5 380.8 174.7 385.1 175.9 389.5 177.1 384.9 178.4 389.3 179.6 391.0 180.8 392.4 182.0 391.4 183.2 393.6 184.4 394.5 185.7 396.9 186.9 400.4 188.1 402.4 189.3 406.6 190.5 411.7 191.7 410.2 193.0 413.1 194.2 406.3 195.4 408.5 196.6 410.8 197.8 416.4 199.0 411.9 200.3 421.5 201.5 423.1 202.7 423.2 203.9 424.5 205.1 422.5 206.3 422.6 207.6 418.2 208.8 420.6 210.0 421.0 211.2 424.1 212.4 427.1 213.7 430.1 214.9 434.0 216.1 433.3 217.3 432.1 218.5 428.5 219.7 436.9 221.0 438.2 222.2 433.3 223.4 437.6 224.6 433.9 225.8 436.6 227.0 439.0 228.3 442.3 229.5 438.6 230.7 440.9 231.9 441.4 233.1 442.0 234.3 439.0 235.6 438.9 236.8 447.3 238.0 442.6 239.2 439.5 240.4 436.2 241.6 437.0 242.9 440.0 244.1 447.3 245.3 447.2 246.5 439.4 247.7 445.7 248.9 439.0 250.2 436.6 251.4 447.2 252.6 442.4 253.8 444.1 255.0 434.5 256.3 438.3 257.5 445.5 258.7 442.7 259.9 448.5 261.1 446.1 262.3 444.1 263.6 444.0 264.8 443.4 266.0 449.0 267.2 454.7 268.4 448.9 269.6 450.3 270.9 449.8 272.1 436.4 273.3 438.4 274.5 445.1 275.7 452.5 276.9 453.4 278.2 445.8 279.4 441.0 280.6 446.5 281.8 445.7 283.0 445.0 284.2 441.1 285.5 454.3 286.7 447.3 287.9 444.8 289.1 441.8 290.3 443.8 291.6 451.3 292.8 450.4 294.0 454.7 295.2 447.5 296.4 446.1 297.6 444.3 298.9 451.0 300.1 453.1 301.3 441.0 302.5 444.9 303.7 438.4 304.9 443.2 306.2 453.2 307.4 444.5 308.6 440.7 309.8 447.9 311.0 456.3 312.2 445.8 313.5 447.5 314.7 445.9 315.9 459.5 317.1 447.4 318.3 460.2 319.5 453.8 320.8 444.3 322.0 455.2 323.2 457.6 324.4 451.4 325.6 440.3 326.8 438.2 328.1 448.3 329.3 442.7 330.5 443.6 331.7 445.3 332.9 445.2 334.2 450.3 335.4 444.1 336.6 441.6 337.8 433.4 339.0 440.2 340.2 457.4 341.5 455.0 342.7 447.3 343.9 447.0 345.1 456.0 346.3 449.7 347.5 449.5 348.8 448.0 350.0 448.1 351.2 443.2 352.4 439.6 353.6 442.6 354.8 451.7 356.1 452.3 357.3 451.5 358.5 448.5 359.7 449.7 360.9 449.5 362.1 452.2 363.4 443.9 364.6 442.7 365.8 442.0 367.0 446.8 368.2 445.2 369.5 451.3 370.7 453.0 371.9 451.2 373.1 445.5 374.3 447.8 375.5 453.0 376.8 448.2 378.0 445.7 379.2 446.4 380.4 450.5 381.6 447.8 382.8 449.6 384.1 449.5 385.3 448.4 386.5 444.2 387.7 438.3 388.9 438.4 390.1 442.8 391.4 448.5 392.6 449.2 393.8 449.2 395.0 442.5 396.2 459.6 397.4 448.8 398.7 457.3 399.9 449.6 401.1 441.8 402.3 450.8 403.5 459.0 404.8 443.8 406.0 439.8 407.2 443.8 408.4 441.0 409.6 450.1 410.8 442.7 412.1 438.7 413.3 442.9 414.5 445.4 415.7 441.2 416.9 441.1 418.1 449.9 419.4 441.8 420.6 443.0 421.8 446.1 423.0 441.3 424.2 442.1 425.4 443.1 426.7 449.2 427.9 444.1 429.1 452.3 430.3 449.3 431.5 456.1 432.7 457.5 434.0 447.6 435.2 448.2 436.4 447.5 437.6 445.0 438.8 445.6 440.0 451.6 441.3 448.2 442.5 448.2 443.7 450.4 444.9 448.9 446.1 449.8 447.4 451.3 448.6 450.1 449.8 447.2 451.0 438.0 452.2 449.7 453.4 445.8 454.7 454.3 455.9 441.7 457.1 448.2 458.3 447.3 459.5 441.8 460.7 442.0 462.0 453.8 463.2 446.5 464.4 448.7 465.6 445.2 466.8 446.6 468.0 444.2 469.3 445.8 470.5 448.2 471.7 442.4 472.9 454.1 474.1 451.2 475.3 453.1 476.6 449.7 477.8 450.3 479.0 449.1 480.2 450.5 481.4 450.7 482.7 456.3 483.9 449.8 485.1 446.9 486.3 450.6 487.5 451.6 488.7 451.8 490.0 440.8 491.2 445.7 492.4 445.7 493.6 449.0 494.8 450.6 496.0 452.7 497.3 441.7 498.5 454.8 499.7 448.0 500.9 448.1 502.1 449.3 503.3 455.7 504.6 455.4 505.8 444.9 507.0 450.7 508.2 444.4 509.4 444.2 510.6 444.5 511.9 443.8 513.1 452.9 514.3 451.3 515.5 445.5 516.7 453.5 518.0 441.3 519.2 449.4 520.4 448.6 521.6 453.0 522.8 447.3 524.0 451.4 525.3 449.9 526.5 453.8 527.7 443.6 528.9 454.9 530.1 447.3 531.3 446.8 532.6 445.8 533.8 452.4 535.0 444.1 536.2 442.8 537.4 446.3 538.6 446.3 539.9 448.5 541.1 445.2 542.3 451.4 543.5 446.2 544.7 445.8 545.9 454.3 547.2 461.7 548.4 451.4 549.6 449.5 550.8 442.7 552.0 446.8 553.2 450.2 554.5 455.0 555.7 449.9 556.9 451.2 558.1 454.0 559.3 449.9 560.6 443.5 561.8 446.8 563.0 452.8 564.2 447.5 565.4 453.2 566.6 456.6 567.9 447.5 569.1 450.6 570.3 443.4 571.5 445.7 572.7 451.5 573.9 447.8 575.2 442.0 576.4 447.8 577.6 453.1 578.8 452.3 580.0 452.8 581.2 454.7 582.5 455.6 583.7 447.7 584.9 442.8 586.1 448.8 587.3 444.6 588.5 443.2 589.8 439.2 591.0 447.3 592.2 449.6 593.4 446.5 594.6 447.4 595.9 446.6 597.1 441.8 598.3 448.9 599.5 447.3 600.7 452.6 601.9 449.8 603.2 451.7 604.4 452.5 605.6 450.1 606.8 450.7 608.0 446.9 609.2 444.2 610.5 454.4 611.7 444.7 612.9 458.0 614.1 449.0 615.3 445.0 616.5 450.6 617.8 449.8 619.0 452.2 620.2 444.8 621.4 462.5 622.6 455.6 623.8 458.8 625.1 449.4 626.3 442.3 627.5 441.4 628.7 443.7 629.9 446.1 631.1 451.4 632.4 443.1 633.6 444.2 634.8 451.4 636.0 454.9 637.2 452.5 638.5 444.0 639.7 441.5 640.9 439.2 642.1 450.1 643.3 450.3 644.5 442.1 645.8 446.0 647.0 444.2 648.2 453.6 649.4 451.0 650.6 448.9 651.8 450.0 653.1 450.5 654.3 456.4 655.5 442.2 656.7 446.3 657.9 454.7 659.1 444.4 660.4 447.1 661.6 444.6 662.8 448.4 664.0 451.9 665.2 452.5 666.4 447.4 667.7 444.3 668.9 445.1 670.1 444.5" stroke="#edb000" stroke-width="3.6" stroke-dasharray="13.4 3.4 6.8 3.4" stroke-linejoin="miter" stroke-miterlimit="2"/>
<path d="M62.7 6.8 63.9 33.9 65.2 54.5 66.4 67.2 67.6 77.3 68.8 89.1 70.0 106.6 71.2 127.1 72.5 148.0 73.7 156.7 74.9 167.9 76.1 183.5 77.3 196.6 78.5 211.3 79.8 226.8 81.0 236.1 82.2 249.9 83.4 257.2 84.6 259.7 85.8 269.8 87.1 287.0 88.3 301.6 89.5 306.9 90.7 315.7 91.9 321.8 93.1 315.2 94.4 330.0 95.6 347.0 96.8 349.7 98.0 343.7 99.2 357.2 100.5 361.0 101.7 383.6 102.9 382.8 104.1 376.9 105.3 388.7 106.5 383.1 107.8 389.0 109.0 392.6 110.2 387.3 111.4 400.9 112.6 404.9 113.8 403.7 115.1 404.3 116.3 417.6 117.5 404.1 118.7 408.9 119.9 413.5 121.1 410.7 122.4 417.1 123.6 409.4 124.8 415.4 126.0 413.2 127.2 422.9 128.4 421.7 129.7 417.9 130.9 425.6 132.1 425.8 133.3 422.7 134.5 415.6 135.7 416.9 137.0 417.0 138.2 421.4 139.4 419.6 140.6 416.6 141.8 425.7 143.1 427.3 144.3 428.2 145.5 445.4 146.7 438.6 147.9 435.3 149.1 433.4 150.4 440.1 151.6 434.0 152.8 442.9 154.0 442.3 155.2 431.2 156.4 447.6 157.7 443.5 158.9 443.4 160.1 443.4 161.3 446.4 162.5 440.3 163.7 449.9 165.0 453.7 166.2 444.0 167.4 452.5 168.6 445.1 169.8 445.9 171.0 450.4 172.3 449.3 173.5 447.7 174.7 444.1 175.9 449.9 177.1 448.6 178.4 455.8 179.6 450.3 180.8 459.1 182.0 449.7 183.2 450.3 184.4 435.1 185.7 437.0 186.9 446.1 188.1 441.3 189.3 444.4 190.5 453.7 191.7 463.2 193.0 443.9 194.2 444.4 195.4 458.7 196.6 446.0 197.8 441.8 199.0 450.6 200.3 443.5 201.5 457.2 202.7 450.9 203.9 448.2 205.1 443.2 206.3 444.5 207.6 445.8 208.8 444.1 210.0 451.0 211.2 439.6 212.4 448.3 213.7 443.2 214.9 447.0 216.1 449.2 217.3 444.7 218.5 444.6 219.7 439.2 221.0 439.8 222.2 449.8 223.4 445.3 224.6 446.9 225.8 452.6 227.0 455.6 228.3 448.0 229.5 451.3 230.7 457.0 231.9 450.4 233.1 447.2 234.3 447.3 235.6 455.2 236.8 453.0 238.0 440.9 239.2 451.3 240.4 450.7 241.6 434.8 242.9 443.4 244.1 450.2 245.3 460.3 246.5 448.8 247.7 456.7 248.9 450.1 250.2 453.8 251.4 459.4 252.6 440.6 253.8 447.4 255.0 442.6 256.3 442.7 257.5 451.6 258.7 448.5 259.9 450.5 261.1 443.0 262.3 444.7 263.6 449.8 264.8 438.7 266.0 443.3 267.2 444.6 268.4 452.4 269.6 446.8 270.9 456.9 272.1 447.4 273.3 453.9 274.5 448.4 275.7 450.1 276.9 447.4 278.2 446.1 279.4 448.4 280.6 448.8 281.8 457.5 283.0 461.8 284.2 443.6 285.5 444.1 286.7 456.6 287.9 438.7 289.1 450.9 290.3 446.0 291.6 445.5 292.8 447.3 294.0 444.7 295.2 456.1 296.4 450.3 297.6 450.5 298.9 448.5 300.1 450.2 301.3 452.8 302.5 453.9 303.7 444.4 304.9 452.9 306.2 447.3 307.4 446.3 308.6 448.8 309.8 446.1 311.0 444.9 312.2 451.1 313.5 447.1 314.7 436.9 315.9 452.8 317.1 451.3 318.3 453.9 319.5 437.8 320.8 455.0 322.0 449.9 323.2 443.4 324.4 452.9 325.6 450.4 326.8 453.4 328.1 457.7 329.3 451.0 330.5 446.2 331.7 450.7 332.9 448.2 334.2 444.5 335.4 440.8 336.6 454.6 337.8 446.3 339.0 452.0 340.2 460.8 341.5 455.9 342.7 446.4 343.9 446.5 345.1 455.0 346.3 440.4 347.5 444.7 348.8 448.4 350.0 452.0 351.2 447.0 352.4 450.8 353.6 442.4 354.8 445.7 356.1 444.5 357.3 449.8 358.5 457.9 359.7 447.5 360.9 454.7 362.1 450.7 363.4 449.3 364.6 453.7 365.8 444.5 367.0 456.6 368.2 441.5 369.5 451.0 370.7 443.5 371.9 440.1 373.1 452.3 374.3 454.0 375.5 444.3 376.8 446.9 378.0 448.0 379.2 459.7 380.4 461.0 381.6 448.1 382.8 440.2 384.1 451.5 385.3 454.6 386.5 448.9 387.7 446.2 388.9 445.0 390.1 450.8 391.4 461.0 392.6 442.7 393.8 450.7 395.0 441.8 396.2 459.5 397.4 448.9 398.7 452.0 399.9 456.1 401.1 444.6 402.3 440.4 403.5 450.8 404.8 445.5 406.0 454.8 407.2 453.9 408.4 451.5 409.6 451.6 410.8 445.7 412.1 455.6 413.3 444.6 414.5 442.4 415.7 449.0 416.9 456.1 418.1 464.7 419.4 452.6 420.6 454.1 421.8 449.5 423.0 455.5 424.2 450.3 425.4 449.7 426.7 449.2 427.9 447.4 429.1 447.0 430.3 442.9 431.5 452.5 432.7 445.5 434.0 447.4 435.2 451.3 436.4 455.5 437.6 441.7 438.8 446.2 440.0 451.6 441.3 449.2 442.5 449.1 443.7 452.2 444.9 458.0 446.1 450.0 447.4 450.3 448.6 451.0 449.8 443.7 451.0 455.9 452.2 456.2 453.4 449.6 454.7 444.3 455.9 444.5 457.1 443.9 458.3 461.2 459.5 448.6 460.7 446.6 462.0 444.6 463.2 452.3 464.4 446.8 465.6 442.7 466.8 438.3 468.0 445.5 469.3 456.3 470.5 450.3 471.7 445.5 472.9 445.4 474.1 437.0 475.3 447.9 476.6 455.0 477.8 454.1 479.0 446.2 480.2 453.3 481.4 456.2 482.7 455.5 483.9 443.3 485.1 446.6 486.3 450.7 487.5 444.4 488.7 444.1 490.0 454.0 491.2 445.2 492.4 446.9 493.6 461.0 494.8 458.6 496.0 449.5 497.3 446.3 498.5 450.3 499.7 455.3 500.9 448.9 502.1 460.0 503.3 448.0 504.6 449.8 505.8 449.5 507.0 453.1 508.2 445.0 509.4 462.2 510.6 456.9 511.9 447.3 513.1 453.0 514.3 441.2 515.5 445.0 516.7 452.9 518.0 443.3 519.2 448.5 520.4 445.5 521.6 452.0 522.8 453.2 524.0 445.7 525.3 447.8 526.5 453.3 527.7 455.1 528.9 446.4 530.1 438.0 531.3 451.8 532.6 445.5 533.8 465.6 535.0 460.6 536.2 447.3 537.4 439.2 538.6 446.7 539.9 445.3 541.1 446.7 542.3 442.5 543.5 454.1 544.7 446.2 545.9 451.0 547.2 451.4 548.4 449.5 549.6 450.3 550.8 453.8 552.0 451.5 553.2 455.1 554.5 441.4 555.7 443.3 556.9 450.3 558.1 439.8 559.3 439.5 560.6 444.2 561.8 451.2 563.0 447.9 564.2 445.3 565.4 440.0 566.6 448.2 567.9 452.2 569.1 436.0 570.3 438.1 571.5 444.9 572.7 453.6 573.9 447.0 575.2 441.9 576.4 443.1 577.6 442.9 578.8 447.5 580.0 441.9 581.2 451.2 582.5 452.0 583.7 452.6 584.9 453.5 586.1 438.3 587.3 456.9 588.5 449.2 589.8 454.9 591.0 457.6 592.2 450.1 593.4 458.6 594.6 451.5 595.9 435.9 597.1 447.1 598.3 445.9 599.5 453.5 600.7 447.1 601.9 457.6 603.2 449.6 604.4 450.0 605.6 436.3 606.8 447.1 608.0 450.9 609.2 452.9 610.5 457.1 611.7 446.2 612.9 440.0 614.1 449.6 615.3 445.1 616.5 450.5 617.8 447.1 619.0 446.1 620.2 457.2 621.4 455.5 622.6 444.9 623.8 459.8 625.1 451.4 626.3 451.8 627.5 455.4 628.7 450.2 629.9 447.6 631.1 445.8 632.4 464.4 633.6 442.3 634.8 450.8 636.0 443.4 637.2 448.9 638.5 452.7 639.7 450.4 640.9 430.5 642.1 436.2 643.3 448.8 644.5 447.9 645.8 442.3 647.0 444.5 648.2 447.9 649.4 450.2 650.6 456.0 651.8 446.2 653.1 442.1 654.3 434.5 655.5 449.7 656.7 445.5 657.9 448.8 659.1 441.7 660.4 448.4 661.6 453.1 662.8 460.3 664.0 447.3 665.2 448.0 666.4 442.3 667.7 451.3 668.9 434.2 670.1 450.6" stroke="#404040" stroke-width="3.6" stroke-dasharray="13.4 13.6" stroke-linejoin="miter" stroke-miterlimit="2"/>
<path d="M62.7 6.8 63.9 27.5 65.2 52.1 66.4 82.8 67.6 114.5 68.8 142.3 70.0 167.3 71.2 194.2 72.5 221.1 73.7 251.6 74.9 266.6 76.1 276.1 77.3 284.3 78.5 298.9 79.8 305.5 81.0 303.5 82.2 316.6 83.4 326.9 84.6 337.1 85.8 348.8 87.1 357.1 88.3 356.5 89.5 363.1 90.7 353.6 91.9 368.5 93.1 374.3 94.4 369.2 95.6 372.5 96.8 362.1 98.0 368.7 99.2 366.2 100.5 374.9 101.7 367.6 102.9 366.6 104.1 363.9 105.3 368.2 106.5 367.8 107.8 369.5 109.0 366.5 110.2 372.1 111.4 369.0 112.6 373.6 113.8 369.0 115.1 372.7 116.3 375.4 117.5 376.4 118.7 367.3 119.9 379.4 121.1 381.9 122.4 373.5 123.6 379.9 124.8 379.5 126.0 380.3 127.2 368.7 128.4 380.0 129.7 382.7 130.9 382.0 132.1 379.2 133.3 377.6 134.5 386.3 135.7 379.6 137.0 371.6 138.2 387.0 139.4 379.6 140.6 377.5 141.8 380.2 143.1 382.6 144.3 393.1 145.5 379.6 146.7 384.2 147.9 385.0 149.1 379.2 150.4 394.5 151.6 387.9 152.8 384.1 154.0 383.3 155.2 384.2 156.4 378.5 157.7 385.8 158.9 384.5 160.1 385.9 161.3 396.9 162.5 396.4 163.7 384.1 165.0 392.7 166.2 394.1 167.4 400.6 168.6 398.1 169.8 402.6 171.0 401.0 172.3 396.2 173.5 402.1 174.7 403.0 175.9 395.1 177.1 398.1 178.4 399.2 179.6 398.0 180.8 405.3 182.0 406.8 183.2 415.2 184.4 405.0 185.7 407.9 186.9 408.1 188.1 413.7 189.3 407.7 190.5 407.0 191.7 409.5 193.0 418.5 194.2 417.5 195.4 414.2 196.6 417.7 197.8 413.5 199.0 410.4 200.3 418.2 201.5 417.7 202.7 420.4 203.9 413.7 205.1 413.5 206.3 406.0 207.6 417.0 208.8 423.9 210.0 419.8 211.2 422.4 212.4 421.5 213.7 417.1 214.9 423.6 216.1 420.8 217.3 433.5 218.5 422.3 219.7 424.6 221.0 427.2 222.2 429.3 223.4 421.5 224.6 429.0 225.8 422.8 227.0 429.9 228.3 429.2 229.5 428.0 230.7 420.5 231.9 427.3 233.1 429.0 234.3 431.0 235.6 432.8 236.8 434.7 238.0 424.6 239.2 424.3 240.4 434.2 241.6 432.7 242.9 438.6 244.1 430.6 245.3 430.4 246.5 433.2 247.7 438.2 248.9 432.4 250.2 432.2 251.4 436.0 252.6 432.9 253.8 441.9 255.0 440.6 256.3 442.2 257.5 438.0 258.7 430.4 259.9 436.4 261.1 432.9 262.3 437.6 263.6 440.4 264.8 434.8 266.0 436.0 267.2 432.5 268.4 434.0 269.6 442.5 270.9 452.1 272.1 442.2 273.3 446.3 274.5 448.4 275.7 449.3 276.9 445.9 278.2 443.4 279.4 442.1 280.6 432.9 281.8 445.8 283.0 443.2 284.2 448.3 285.5 448.4 286.7 443.8 287.9 441.4 289.1 448.7 290.3 439.4 291.6 447.0 292.8 440.1 294.0 443.4 295.2 439.8 296.4 440.7 297.6 444.8 298.9 442.3 300.1 450.0 301.3 451.4 302.5 447.5 303.7 439.0 304.9 446.8 306.2 447.8 307.4 437.8 308.6 443.1 309.8 444.4 311.0 449.4 312.2 445.4 313.5 442.3 314.7 444.6 315.9 441.4 317.1 442.7 318.3 439.8 319.5 440.2 320.8 444.6 322.0 441.0 323.2 436.1 324.4 441.9 325.6 449.9 326.8 445.2 328.1 446.1 329.3 433.7 330.5 439.5 331.7 449.1 332.9 446.9 334.2 439.0 335.4 449.3 336.6 448.3 337.8 446.0 339.0 446.2 340.2 448.3 341.5 445.4 342.7 451.8 343.9 449.4 345.1 449.0 346.3 447.6 347.5 447.4 348.8 446.0 350.0 447.3 351.2 447.9 352.4 444.6 353.6 441.5 354.8 440.6 356.1 450.0 357.3 445.6 358.5 442.5 359.7 446.4 360.9 443.9 362.1 446.5 363.4 444.4 364.6 452.5 365.8 445.3 367.0 448.1 368.2 449.8 369.5 448.2 370.7 442.1 371.9 441.1 373.1 444.0 374.3 441.9 375.5 447.2 376.8 452.0 378.0 455.8 379.2 448.3 380.4 447.4 381.6 446.4 382.8 446.0 384.1 440.8 385.3 449.4 386.5 450.5 387.7 438.6 388.9 441.4 390.1 446.8 391.4 455.7 392.6 452.2 393.8 449.3 395.0 447.5 396.2 445.9 397.4 447.5 398.7 441.7 399.9 451.0 401.1 448.8 402.3 450.2 403.5 443.9 404.8 445.4 406.0 442.9 407.2 445.7 408.4 429.7 409.6 440.2 410.8 448.9 412.1 447.3 413.3 448.7 414.5 443.8 415.7 441.9 416.9 444.2 418.1 447.2 419.4 450.0 420.6 440.3 421.8 440.6 423.0 458.8 424.2 449.0 425.4 451.1 426.7 449.5 427.9 439.9 429.1 450.7 430.3 452.4 431.5 437.1 432.7 447.2 434.0 448.1 435.2 442.1 436.4 448.3 437.6 447.1 438.8 446.0 440.0 440.5 441.3 453.0 442.5 452.0 443.7 448.6 444.9 443.3 446.1 449.2 447.4 445.5 448.6 449.1 449.8 449.3 451.0 441.9 452.2 447.2 453.4 433.9 454.7 442.9 455.9 441.3 457.1 442.7 458.3 453.3 459.5 455.4 460.7 446.7 462.0 452.1 463.2 450.7 464.4 449.5 465.6 451.9 466.8 442.9 468.0 442.9 469.3 445.7 470.5 444.5 471.7 450.9 472.9 444.1 474.1 450.6 475.3 441.0 476.6 449.1 477.8 450.3 479.0 442.8 480.2 443.6 481.4 451.0 482.7 445.5 483.9 447.1 485.1 447.3 486.3 444.7 487.5 444.2 488.7 442.3 490.0 444.3 491.2 445.4 492.4 447.6 493.6 440.8 494.8 449.7 496.0 439.4 497.3 436.1 498.5 435.6 499.7 445.8 500.9 437.8 502.1 440.5 503.3 441.4 504.6 431.6 505.8 443.5 507.0 444.2 508.2 452.6 509.4 458.6 510.6 448.5 511.9 445.9 513.1 444.1 514.3 445.6 515.5 456.2 516.7 447.7 518.0 442.7 519.2 439.6 520.4 450.4 521.6 452.3 522.8 451.8 524.0 451.4 525.3 455.8 526.5 452.4 527.7 441.6 528.9 451.3 530.1 456.9 531.3 450.9 532.6 450.7 533.8 445.4 535.0 450.7 536.2 449.2 537.4 451.9 538.6 453.1 539.9 447.3 541.1 447.2 542.3 448.0 543.5 445.6 544.7 451.2 545.9 448.5 547.2 447.1 548.4 442.5 549.6 455.4 550.8 451.0 552.0 446.6 553.2 450.3 554.5 448.0 555.7 444.9 556.9 445.2 558.1 455.2 559.3 454.9 560.6 462.1 561.8 447.9 563.0 447.1 564.2 441.8 565.4 446.6 566.6 452.9 567.9 444.2 569.1 453.2 570.3 449.1 571.5 449.2 572.7 444.8 573.9 443.3 575.2 449.0 576.4 451.6 577.6 449.0 578.8 450.9 580.0 444.4 581.2 445.7 582.5 441.3 583.7 435.0 584.9 449.4 586.1 451.1 587.3 446.6 588.5 446.0 589.8 449.3 591.0 456.1 592.2 438.3 593.4 445.8 594.6 452.9 595.9 459.9 597.1 444.2 598.3 445.9 599.5 447.7 600.7 452.8 601.9 449.6 603.2 450.2 604.4 459.9 605.6 438.4 606.8 444.2 608.0 448.9 609.2 452.7 610.5 451.8 611.7 438.0 612.9 444.4 614.1 453.5 615.3 445.2 616.5 445.4 617.8 445.3 619.0 448.2 620.2 449.0 621.4 447.4 622.6 449.0 623.8 454.8 625.1 454.1 626.3 449.4 627.5 455.7 628.7 450.3 629.9 450.1 631.1 445.3 632.4 446.9 633.6 449.3 634.8 449.8 636.0 446.6 637.2 443.7 638.5 452.2 639.7 456.0 640.9 453.2 642.1 459.7 643.3 454.1 644.5 445.7 645.8 443.3 647.0 440.3 648.2 446.4 649.4 447.2 650.6 450.7 651.8 451.1 653.1 447.5 654.3 444.0 655.5 445.5 656.7 456.9 657.9 447.8 659.1 448.2 660.4 450.9 661.6 448.2 662.8 444.2 664.0 446.8 665.2 451.3 666.4 433.7 667.7 448.3 668.9 446.2 670.1 442.2" stroke="#c846b4" stroke-width="3.6" stroke-dasharray="3.5 3.2" stroke-linejoin="miter" stroke-miterlimit="2"/>
<path d="M62.7 6.8 63.9 27.4 65.2 52.7 66.4 83.3 67.6 115.1 68.8 137.3 70.0 170.9 71.2 193.5 72.5 221.8 73.7 260.0 74.9 263.5 76.1 285.4 77.3 306.8 78.5 323.5 79.8 336.2 81.0 349.0 82.2 361.3 83.4 369.5 84.6 366.4 85.8 360.3 87.1 376.4 88.3 385.0 89.5 378.7 90.7 375.1 91.9 374.3 93.1 387.6 94.4 400.8 95.6 385.4 96.8 386.0 98.0 383.5 99.2 400.4 100.5 395.8 101.7 393.6 102.9 412.8 104.1 400.0 105.3 396.6 106.5 402.6 107.8 405.3 109.0 405.7 110.2 413.1 111.4 423.0 112.6 422.6 113.8 418.5 115.1 422.5 116.3 412.0 117.5 419.5 118.7 419.7 119.9 430.7 121.1 419.9 122.4 425.3 123.6 413.2 124.8 432.0 126.0 423.8 127.2 427.7 128.4 429.2 129.7 417.4 130.9 420.7 132.1 433.6 133.3 422.8 134.5 434.2 135.7 427.9 137.0 443.0 138.2 437.4 139.4 436.3 140.6 436.7 141.8 444.9 143.1 448.7 144.3 437.9 145.5 432.0 146.7 434.6 147.9 437.7 149.1 445.8 150.4 439.7 151.6 440.5 152.8 441.7 154.0 436.5 155.2 435.5 156.4 434.0 157.7 437.9 158.9 442.4 160.1 439.3 161.3 439.5 162.5 448.0 163.7 441.6 165.0 448.6 166.2 452.0 167.4 445.6 168.6 443.2 169.8 434.4 171.0 439.0 172.3 434.8 173.5 428.2 174.7 435.3 175.9 435.2 177.1 442.0 178.4 433.9 179.6 437.2 180.8 437.9 182.0 445.6 183.2 446.0 184.4 444.5 185.7 439.4 186.9 432.3 188.1 447.3 189.3 443.2 190.5 442.1 191.7 425.7 193.0 438.1 194.2 442.8 195.4 435.7 196.6 446.0 197.8 437.8 199.0 450.2 200.3 429.5 201.5 438.4 202.7 442.7 203.9 449.2 205.1 443.2 206.3 440.7 207.6 445.3 208.8 434.2 210.0 441.7 211.2 440.6 212.4 439.2 213.7 432.3 214.9 441.9 216.1 441.0 217.3 439.5 218.5 437.3 219.7 452.3 221.0 436.6 222.2 441.5 223.4 446.4 224.6 443.1 225.8 454.3 227.0 449.4 228.3 442.5 229.5 433.8 230.7 441.2 231.9 439.8 233.1 443.9 234.3 437.5 235.6 444.2 236.8 440.2 238.0 444.4 239.2 449.3 240.4 450.5 241.6 448.6 242.9 436.9 244.1 421.9 245.3 440.2 246.5 447.3 247.7 440.8 248.9 439.8 250.2 446.0 251.4 431.9 252.6 435.6 253.8 436.0 255.0 441.6 256.3 442.3 257.5 437.1 258.7 451.0 259.9 450.1 261.1 444.3 262.3 452.9 263.6 435.1 264.8 445.8 266.0 446.7 267.2 442.2 268.4 433.8 269.6 441.9 270.9 448.1 272.1 450.4 273.3 443.5 274.5 447.3 275.7 429.5 276.9 432.9 278.2 461.4 279.4 453.1 280.6 443.3 281.8 429.1 283.0 453.5 284.2 448.4 285.5 437.1 286.7 446.8 287.9 443.9 289.1 446.9 290.3 440.2 291.6 450.0 292.8 444.9 294.0 453.1 295.2 439.5 296.4 439.2 297.6 443.1 298.9 443.4 300.1 443.6 301.3 446.1 302.5 443.3 303.7 441.4 304.9 443.8 306.2 447.6 307.4 447.2 308.6 447.4 309.8 441.7 311.0 442.5 312.2 431.2 313.5 442.5 314.7 443.1 315.9 447.7 317.1 444.0 318.3 446.7 319.5 449.9 320.8 444.1 322.0 434.0 323.2 447.4 324.4 448.7 325.6 445.2 326.8 442.6 328.1 435.5 329.3 446.4 330.5 445.3 331.7 449.3 332.9 450.6 334.2 448.3 335.4 451.9 336.6 442.8 337.8 437.2 339.0 446.0 340.2 448.9 341.5 436.8 342.7 444.1 343.9 434.8 345.1 460.5 346.3 448.5 347.5 451.5 348.8 449.0 350.0 440.2 351.2 436.7 352.4 443.8 353.6 438.3 354.8 450.1 356.1 443.8 357.3 445.2 358.5 455.2 359.7 440.8 360.9 447.8 362.1 442.3 363.4 448.7 364.6 444.1 365.8 440.5 367.0 443.6 368.2 447.2 369.5 441.1 370.7 442.4 371.9 446.6 373.1 444.5 374.3 444.9 375.5 446.6 376.8 439.2 378.0 432.4 379.2 445.2 380.4 445.3 381.6 450.5 382.8 454.0 384.1 439.2 385.3 447.6 386.5 442.9 387.7 452.6 388.9 450.1 390.1 442.6 391.4 441.1 392.6 442.3 393.8 441.5 395.0 442.5 396.2 437.8 397.4 432.5 398.7 438.5 399.9 444.0 401.1 450.8 402.3 448.8 403.5 447.4 404.8 436.1 406.0 452.5 407.2 451.1 408.4 452.3 409.6 440.7 410.8 448.2 412.1 456.8 413.3 459.9 414.5 445.7 415.7 455.1 416.9 439.8 418.1 437.0 419.4 450.3 420.6 448.0 421.8 445.2 423.0 454.2 424.2 454.4 425.4 450.7 426.7 446.2 427.9 443.4 429.1 456.3 430.3 445.7 431.5 445.8 432.7 446.7 434.0 448.2 435.2 439.1 436.4 434.0 437.6 445.6 438.8 446.2 440.0 455.2 441.3 449.5 442.5 441.6 443.7 444.9 444.9 442.7 446.1 445.2 447.4 444.4 448.6 440.7 449.8 439.3 451.0 456.0 452.2 448.5 453.4 463.9 454.7 448.6 455.9 449.0 457.1 449.4 458.3 436.0 459.5 440.8 460.7 436.9 462.0 439.3 463.2 433.1 464.4 444.0 465.6 446.2 466.8 445.7 468.0 429.6 469.3 444.5 470.5 444.6 471.7 436.1 472.9 437.3 474.1 446.4 475.3 434.2 476.6 439.7 477.8 434.7 479.0 439.0 480.2 438.8 481.4 448.3 482.7 436.6 483.9 447.6 485.1 444.9 486.3 438.1 487.5 445.6 488.7 444.3 490.0 444.7 491.2 443.9 492.4 441.0 493.6 453.5 494.8 449.9 496.0 433.0 497.3 454.8 498.5 450.9 499.7 441.1 500.9 455.7 502.1 452.5 503.3 451.5 504.6 436.4 505.8 448.7 507.0 441.8 508.2 448.3 509.4 445.6 510.6 452.2 511.9 455.7 513.1 450.1 514.3 454.7 515.5 448.1 516.7 444.9 518.0 442.4 519.2 434.9 520.4 434.1 521.6 449.8 522.8 450.7 524.0 435.6 525.3 443.5 526.5 447.2 527.7 438.8 528.9 447.8 530.1 439.8 531.3 445.9 532.6 437.2 533.8 444.5 535.0 439.9 536.2 437.4 537.4 433.5 538.6 447.8 539.9 448.1 541.1 454.7 542.3 457.9 543.5 450.8 544.7 445.3 545.9 437.4 547.2 446.2 548.4 433.4 549.6 441.7 550.8 439.0 552.0 445.6 553.2 453.2 554.5 436.9 555.7 445.4 556.9 438.3 558.1 446.2 559.3 441.8 560.6 445.6 561.8 447.5 563.0 446.7 564.2 441.3 565.4 452.1 566.6 452.8 567.9 440.7 569.1 449.0 570.3 445.0 571.5 453.8 572.7 448.4 573.9 439.1 575.2 443.6 576.4 443.8 577.6 447.6 578.8 445.3 580.0 456.6 581.2 458.0 582.5 445.4 583.7 456.6 584.9 439.5 586.1 439.0 587.3 451.8 588.5 460.5 589.8 463.8 591.0 447.3 592.2 446.5 593.4 437.3 594.6 441.0 595.9 434.9 597.1 438.0 598.3 450.1 599.5 447.7 600.7 451.4 601.9 448.8 603.2 449.6 604.4 447.9 605.6 437.6 606.8 447.6 608.0 453.6 609.2 451.3 610.5 449.9 611.7 450.2 612.9 447.7 614.1 448.9 615.3 439.4 616.5 438.8 617.8 449.1 619.0 440.3 620.2 435.9 621.4 443.7 622.6 450.6 623.8 444.0 625.1 445.9 626.3 443.7 627.5 452.0 628.7 433.8 629.9 444.6 631.1 442.2 632.4 448.8 633.6 445.3 634.8 460.0 636.0 456.7 637.2 463.4 638.5 443.0 639.7 453.9 640.9 457.1 642.1 440.9 643.3 447.8 644.5 447.1 645.8 439.2 647.0 441.3 648.2 442.8 649.4 441.0 650.6 456.9 651.8 439.8 653.1 436.1 654.3 432.1 655.5 456.1 656.7 453.1 657.9 450.7 659.1 435.9 660.4 440.1 661.6 433.4 662.8 440.3 664.0 448.6 665.2 454.4 666.4 451.0 667.7 437.9 668.9 449.4 670.1 457.6" stroke="#a01828" stroke-width="3.6"/>
</g>
<g font-family="Liberation Sans, Arial, sans-serif" font-size="18.4" fill="#000" stroke="#000" stroke-width="0.25">
<text transform="translate(61.50 511.9) scale(1 1.05)" text-anchor="middle">0</text>
<text transform="translate(122.36 511.9) scale(1 1.05)" text-anchor="middle">50</text>
<text transform="translate(183.22 511.9) scale(1 1.05)" text-anchor="middle">100</text>
<text transform="translate(244.08 511.9) scale(1 1.05)" text-anchor="middle">150</text>
<text transform="translate(304.94 511.9) scale(1 1.05)" text-anchor="middle">200</text>
<text transform="translate(365.80 511.9) scale(1 1.05)" text-anchor="middle">250</text>
<text transform="translate(426.66 511.9) scale(1 1.05)" text-anchor="middle">300</text>
<text transform="translate(487.52 511.9) scale(1 1.05)" text-anchor="middle">350</text>
<text transform="translate(548.38 511.9) scale(1 1.05)" text-anchor="middle">400</text>
<text transform="translate(609.24 511.9) scale(1 1.05)" text-anchor="middle">450</text>
<text transform="translate(670.10 511.9) scale(1 1.05)" text-anchor="middle">500</text>
<text transform="translate(53.3 492.60) scale(1 1.05)" text-anchor="end">-10</text>
<text transform="translate(53.3 444.75) scale(1 1.05)" text-anchor="end">-8</text>
<text transform="translate(53.3 396.90) scale(1 1.05)" text-anchor="end">-6</text>
<text transform="translate(53.3 349.05) scale(1 1.05)" text-anchor="end">-4</text>
<text transform="translate(53.3 301.20) scale(1 1.05)" text-anchor="end">-2</text>
<text transform="translate(53.3 253.35) scale(1 1.05)" text-anchor="end">0</text>
<text transform="translate(53.3 205.50) scale(1 1.05)" text-anchor="end">2</text>
<text transform="translate(53.3 157.65) scale(1 1.05)" text-anchor="end">4</text>
<text transform="translate(53.3 109.80) scale(1 1.05)" text-anchor="end">6</text>
<text transform="translate(53.3 61.95) scale(1 1.05)" text-anchor="end">8</text>
<text transform="translate(53.3 14.10) scale(1 1.05)" text-anchor="end">10</text>
</g>
<text transform="translate(365.80 540.6) scale(1 1.05)" text-anchor="middle" font-family="Liberation Sans, Arial, sans-serif" font-size="20.5" stroke="#000" stroke-width="0.25">Number of itreration</text>
<text transform="translate(15.3 246.05) rotate(-90) scale(1 1.05)" text-anchor="middle" font-family="Liberation Sans, Arial, sans-serif" font-size="20.5" stroke="#000" stroke-width="0.25">MSE (dB)</text>
<rect x="446.1" y="8.3" width="220.40" height="189.70" fill="#fff" stroke="#7a7a7a" stroke-width="1.6"/>
<path d="M451.8 23.00H507.9" stroke="#2a72bd" stroke-width="3.6" stroke-dasharray="3.5 3.2" fill="none"/>
<text transform="translate(511.8 30.20) scale(1 1.05)" font-family="Liberation Sans, Arial, sans-serif" font-size="16.85" stroke="#000" stroke-width="0.25">CNLMS (μ=1)</text>
<path d="M451.8 45.98H507.9" stroke="#6cc20a" stroke-width="3.6" stroke-dasharray="13.4 3.4 6.8 3.4" fill="none"/>
<text transform="translate(511.8 53.18) scale(1 1.05)" font-family="Liberation Sans, Arial, sans-serif" font-size="16.85" stroke="#000" stroke-width="0.25">CNLMS (μ=0.1)</text>
<path d="M451.8 68.96H507.9" stroke="#a24dc0" stroke-width="3.6" fill="none"/>
<text transform="translate(511.8 76.16) scale(1 1.05)" font-family="Liberation Sans, Arial, sans-serif" font-size="16.85" stroke="#000" stroke-width="0.25">SSS-CNLMS</text>
<path d="M451.8 91.94H507.9" stroke="#8fd8e5" stroke-width="3.6" stroke-dasharray="3.5 3.2" fill="none"/>
<text transform="translate(511.8 99.14) scale(1 1.05)" font-family="Liberation Sans, Arial, sans-serif" font-size="16.85" stroke="#000" stroke-width="0.25">WL-CNLMS (μ=1)</text>
<path d="M451.8 114.92H507.9" stroke="#edb000" stroke-width="3.6" stroke-dasharray="13.4 3.4 6.8 3.4" fill="none"/>
<text transform="translate(511.8 122.12) scale(1 1.05)" font-family="Liberation Sans, Arial, sans-serif" font-size="16.85" stroke="#000" stroke-width="0.25">WL-CNLMS (μ=0.1)</text>
<path d="M451.8 137.90H507.9" stroke="#404040" stroke-width="3.6" stroke-dasharray="13.4 13.6" fill="none"/>
<text transform="translate(511.8 145.10) scale(1 1.05)" font-family="Liberation Sans, Arial, sans-serif" font-size="16.85" stroke="#000" stroke-width="0.25">VSS-WL-CNLMS</text>
<path d="M451.8 160.88H507.9" stroke="#c846b4" stroke-width="3.6" stroke-dasharray="3.5 3.2" fill="none"/>
<text transform="translate(511.8 168.08) scale(1 1.05)" font-family="Liberation Sans, Arial, sans-serif" font-size="16.85" stroke="#000" stroke-width="0.25">C-WL-CNLMS</text>
<path d="M451.8 183.86H507.9" stroke="#a01828" stroke-width="3.6" fill="none"/>
<text transform="translate(511.8 191.06) scale(1 1.05)" font-family="Liberation Sans, Arial, sans-serif" font-size="16.85" stroke="#000" stroke-width="0.25">SSS-WL-CNLMS</text>
</svg></body></html>
